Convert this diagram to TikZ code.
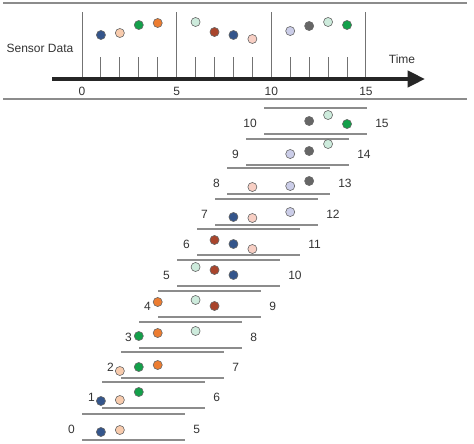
\documentclass[tikz,border=0pt]{standalone}
\usepackage{fontspec}
\setmainfont{Liberation Sans}
\usetikzlibrary{arrows.meta}
\definecolor{dkblue}{HTML}{34558B}
\definecolor{peach}{HTML}{F8CBAD}
\definecolor{dkgreen}{HTML}{13A04A}
\definecolor{orng}{HTML}{ED7D31}
\definecolor{ltgreen}{HTML}{CDEBDC}
\definecolor{brwn}{HTML}{A9452C}
\definecolor{pink}{HTML}{F8CFC4}
\definecolor{lavender}{HTML}{CBCDE8}
\definecolor{dkgray}{HTML}{666666}
\tikzset{
  reading/.style={circle, draw=black!60, line width=0.45pt, inner sep=0pt, minimum size=6.8pt},
  winline/.style={black!45, line width=0.9pt},
  lbl/.style={font=\fontsize{9}{11}\selectfont, text=black!80, inner sep=0pt},
}
\begin{document}
\begin{tikzpicture}[x=0.75pt, y=-0.75pt]
\useasboundingbox (0,0) rectangle (474,443);
% Top panel: sensor readings along the time axis
\draw[winline] (3,3) -- (467,3);
\draw[winline] (3,99) -- (467,99);
\foreach \t in {0,5,10,15} \draw[black!55, line width=0.7pt] ({82+18.93*\t},12) -- ({82+18.93*\t},79);
\foreach \t in {1,2,3,4,6,7,8,9,11,12,13,14} \draw[black!55, line width=0.7pt] ({82+18.93*\t},57) -- ({82+18.93*\t},79);
\draw[line width=3pt, black!85, -{Triangle[length=13pt, width=12pt]}] (52,79) -- (425,79);
\node[lbl] (sensor) at (40,48) {Sensor Data};
\node[lbl] (time) at (402,59) {Time};
\foreach \t in {0,5,10,15} \node[lbl] (tick\t) at ({82+18.93*\t},91) {\t};
\foreach \t/\yy/\c in {1/35/dkblue, 2/33/peach, 3/25/dkgreen, 4/23/orng, 6/22/ltgreen, 7/32/brwn,
    8/35/dkblue, 9/39/pink, 11/31/lavender, 12/26/dkgray, 13/22/ltgreen, 14/25/dkgreen}
  \node[reading, fill=\c] (r\t) at ({82+18.93*\t},\yy) {};
% Bottom panel: sliding windows of width 5
\foreach \w/\xs/\yt in {0/82/414, 1/102/382, 2/121/352, 3/139/322, 4/158/291, 5/177/260,
    6/197/229, 7/215/199, 8/227/168, 9/246/139, 10/264/108} {
  \draw[winline] (\xs,\yt) -- ++(103,0);
  \draw[winline] (\xs,\yt+26) -- ++(103,0);
  \node[lbl, anchor=east] (start\w) at (\xs-7,\yt+15) {\w};
  \node[lbl, anchor=west] (end\w) at (\xs+111,\yt+15) {\the\numexpr\w+5\relax};
}
\foreach \w/\t/\yy/\c in {0/1/432/dkblue, 0/2/430/peach,
    1/1/401/dkblue, 1/2/400/peach, 1/3/392/dkgreen,
    2/2/371/peach, 2/3/367/dkgreen, 2/4/365/orng,
    3/3/336/dkgreen, 3/4/333/orng, 3/6/331/ltgreen,
    4/4/302/orng, 4/6/300/ltgreen, 4/7/306/brwn,
    5/6/267/ltgreen, 5/7/270/brwn, 5/8/275/dkblue,
    6/7/240/brwn, 6/8/244/dkblue, 6/9/249/pink,
    7/8/217/dkblue, 7/9/218/pink, 7/11/212/lavender,
    8/9/187/pink, 8/11/186/lavender, 8/12/181/dkgray,
    9/11/154/lavender, 9/12/151/dkgray, 9/13/144/ltgreen,
    10/12/121/dkgray, 10/13/115/ltgreen, 10/14/124/dkgreen}
  \node[reading, fill=\c] (w\w r\t) at ({82+18.93*\t},\yy) {};
\end{tikzpicture}
\end{document}
